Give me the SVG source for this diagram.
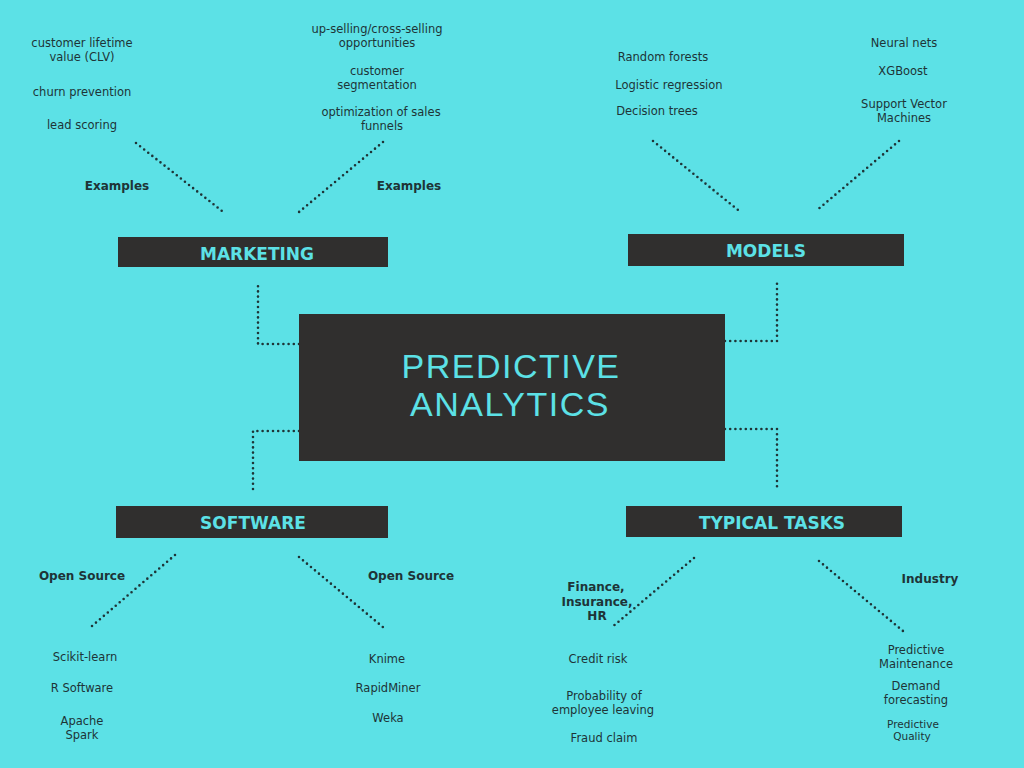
<svg xmlns="http://www.w3.org/2000/svg" width="1024" height="768" viewBox="0 0 1024 768">
<style>
.box{fill:#302f2e}
.hdr{font-family:"DejaVu Sans",sans-serif;font-weight:bold;font-size:17px;fill:#5ce1e6;text-anchor:middle}
.ctr{font-family:"Liberation Sans",Arial,sans-serif;font-size:34px;letter-spacing:1.5px;fill:#5ce1e6;text-anchor:middle}
.t{font-family:"DejaVu Sans",sans-serif;font-size:11.5px;fill:#1e3437;text-anchor:middle}
.b{font-family:"DejaVu Sans",sans-serif;font-weight:bold;font-size:12px;fill:#1e3437;text-anchor:middle}
.dot{fill:none;stroke:#1e3437;stroke-width:2.6;stroke-linecap:round;stroke-dasharray:0 5.2}
</style>
<rect width="1024" height="768" fill="#5ce1e6"/>
<g id="connectors">
<path class="dot" d="M299 344 H258 V283"/>
<path class="dot" d="M725 341 H777 V283"/>
<path class="dot" d="M299 431 H253 V490"/>
<path class="dot" d="M725 429 H777 V490"/>
<path class="dot" d="M136 143 L222 211"/>
<path class="dot" d="M383 142 L299 212"/>
<path class="dot" d="M653 141 L738 210"/>
<path class="dot" d="M899 141 L816 211"/>
<path class="dot" d="M175 555 L92 626"/>
<path class="dot" d="M299 557 L384 628"/>
<path class="dot" d="M694 558 L611 628"/>
<path class="dot" d="M819 561 L903 631"/>
</g>
<g id="center">
<rect class="box" x="299" y="314" width="426" height="147"/>
<text class="ctr" x="511" y="377.5">PREDICTIVE</text>
<text class="ctr" x="510" y="416">ANALYTICS</text>
</g>
<g id="marketing">
<rect class="box" x="118" y="237" width="270" height="30"/>
<text class="hdr" x="257" y="260">MARKETING</text>
</g>
<g id="models">
<rect class="box" x="628" y="234" width="276" height="32"/>
<text class="hdr" x="766" y="257">MODELS</text>
</g>
<g id="software">
<rect class="box" x="116" y="506" width="272" height="32"/>
<text class="hdr" x="253" y="529">SOFTWARE</text>
</g>
<g id="tasks">
<rect class="box" x="626" y="506" width="276" height="31"/>
<text class="hdr" x="772" y="529">TYPICAL TASKS</text>
</g>
<g id="marketing-examples-left">
<text class="t" x="82" y="47">customer lifetime</text>
<text class="t" x="82" y="61">value (CLV)</text>
<text class="t" x="82" y="96">churn prevention</text>
<text class="t" x="82" y="129">lead scoring</text>
<text class="b" x="117" y="190">Examples</text>
</g>
<g id="marketing-examples-right">
<text class="t" x="377" y="33">up-selling/cross-selling</text>
<text class="t" x="377" y="47">opportunities</text>
<text class="t" x="377" y="75">customer</text>
<text class="t" x="377" y="89">segmentation</text>
<text class="t" x="381" y="116">optimization of sales</text>
<text class="t" x="382" y="130">funnels</text>
<text class="b" x="409" y="190">Examples</text>
</g>
<g id="models-left">
<text class="t" x="663" y="61">Random forests</text>
<text class="t" x="669" y="89">Logistic regression</text>
<text class="t" x="657" y="115">Decision trees</text>
</g>
<g id="models-right">
<text class="t" x="904" y="47">Neural nets</text>
<text class="t" x="903" y="75">XGBoost</text>
<text class="t" x="904" y="108">Support Vector</text>
<text class="t" x="904" y="122">Machines</text>
</g>
<g id="software-left">
<text class="b" x="82" y="580">Open Source</text>
<text class="t" x="85" y="661">Scikit-learn</text>
<text class="t" x="82" y="692">R Software</text>
<text class="t" x="82" y="725">Apache</text>
<text class="t" x="82" y="739">Spark</text>
</g>
<g id="software-right">
<text class="b" x="411" y="580">Open Source</text>
<text class="t" x="387" y="663">Knime</text>
<text class="t" x="388" y="692">RapidMiner</text>
<text class="t" x="388" y="722">Weka</text>
</g>
<g id="tasks-left">
<text class="b" x="596" y="591">Finance,</text>
<text class="b" x="597" y="606">Insurance,</text>
<text class="b" x="597" y="620">HR</text>
<text class="t" x="598" y="663">Credit risk</text>
<text class="t" x="604" y="700">Probability of</text>
<text class="t" x="603" y="714">employee leaving</text>
<text class="t" x="604" y="742">Fraud claim</text>
</g>
<g id="tasks-right">
<text class="b" x="930" y="583">Industry</text>
<text class="t" x="916" y="654">Predictive</text>
<text class="t" x="916" y="668">Maintenance</text>
<text class="t" x="916" y="690">Demand</text>
<text class="t" x="916" y="704">forecasting</text>
<text class="t" x="913" y="728" style="font-size:10.5px">Predictive</text>
<text class="t" x="912" y="740" style="font-size:10.5px">Quality</text>
</g>
</svg>
